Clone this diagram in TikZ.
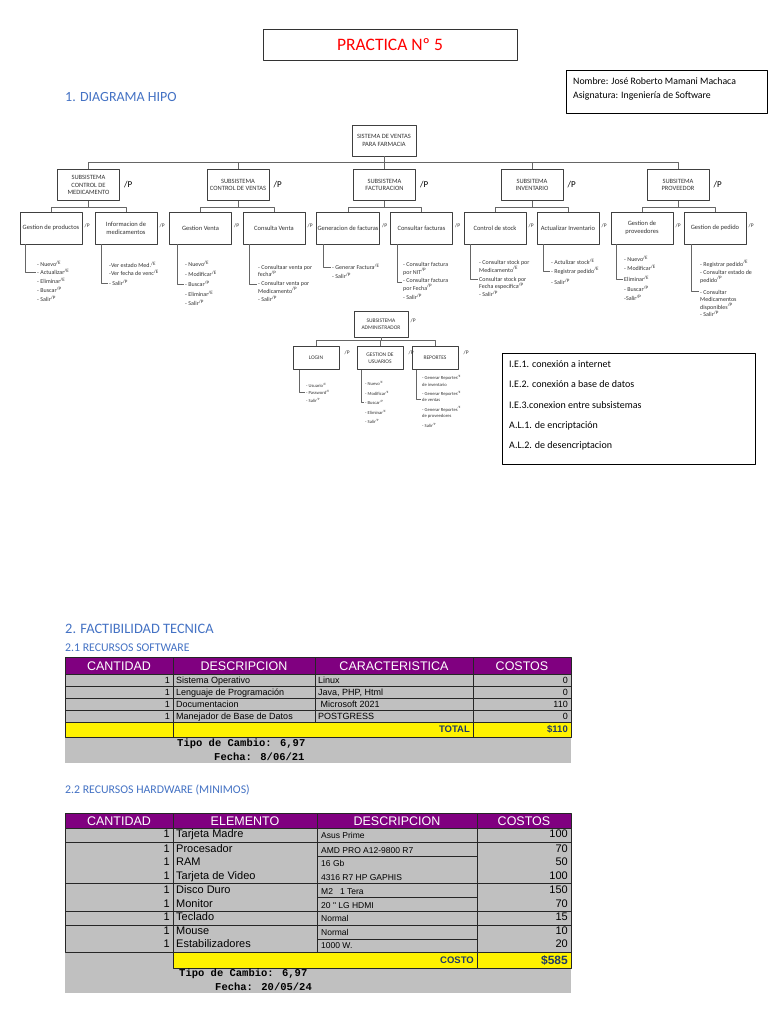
\documentclass[tikz,border=0pt]{standalone}
\usepackage{fontspec}
\setmainfont{Carlito}
\newfontfamily\arialf{Liberation Sans}
\newfontfamily\courf{Liberation Mono}
\usetikzlibrary{positioning}
\definecolor{hblue}{HTML}{4472C4}
\definecolor{tpurple}{HTML}{800080}
\definecolor{tgray}{HTML}{C0C0C0}
\definecolor{tnavy}{HTML}{1F3A68}
\newcommand\sE{\textsuperscript{/E}}
\newcommand\sP{\textsuperscript{/P}}
\tikzset{
  hbox/.style={draw=black!75, line width=.9pt, align=center, inner sep=1pt, text=black!80, font=\fontsize{6.5}{7.8}\selectfont},
  hroot/.style={hbox, minimum width=64, minimum height=31},
  hsub/.style={hbox, minimum width=62, minimum height=31},
  hfun/.style={hbox, minimum width=62, minimum height=32},
  hadm/.style={hbox, minimum width=46, minimum height=23, font=\fontsize{5.5}{7}\selectfont},
  link/.style={draw=black!60, line width=.7pt},
  item/.style={anchor=west, align=left, inner sep=1pt, text=black!80, font=\fontsize{6}{7.5}\selectfont},
  itsm/.style={item, font=\fontsize{4.6}{6.5}\selectfont},
  plab/.style={inner sep=0pt, font=\fontsize{9}{9}\selectfont},
  psm/.style={inner sep=0pt, text=black!80, font=\fontsize{5.5}{5.5}\selectfont},
  cell/.style={draw=black!85, line width=.7pt},
  thead/.style={text=white, inner sep=0pt, text height=9pt, text depth=0pt, font=\arialf\fontsize{12.5}{12.5}\selectfont},
  tdat/.style={inner sep=0pt, text height=6.5pt, text depth=0pt, font=\arialf\fontsize{9}{9}\selectfont},
  tdsm/.style={inner sep=0pt, text height=6.1pt, text depth=0pt, font=\arialf\fontsize{8.5}{8.5}\selectfont},
  tbig/.style={inner sep=0pt, text height=7.9pt, text depth=0pt, font=\arialf\fontsize{11}{11}\selectfont},
  ttot/.style={anchor=east, inner sep=0pt, text height=6.8pt, text depth=0pt, text=tnavy, font=\arialf\bfseries\fontsize{9.5}{9.5}\selectfont},
  tcam/.style={anchor=west, inner sep=0pt, text height=6.5pt, text depth=0pt, font=\courf\bfseries\fontsize{10.5}{10.5}\selectfont},
  htit/.style={anchor=west, inner sep=0pt, text=hblue},
}
\begin{document}
\begin{tikzpicture}[x=1pt,y=-1pt,line join=round]
  \useasboundingbox (0,0) rectangle (768,1024);
  \fill[white] (0,0) rectangle (768,1024);

  % encabezado
  \node[draw=black!80, line width=.8pt, minimum width=254, minimum height=31, text=red, font=\fontsize{17.5}{17.5}\selectfont] (titulo) at (390,44.5) {PRACTICA Nº 5};
  \node[htit, font=\fontsize{14}{14}\selectfont] (hipo) at (65,97) {1. DIAGRAMA HIPO};
  \draw[line width=.8pt] (566,70) rectangle (767,113);
  \node[anchor=west, inner sep=0pt, font=\fontsize{9.8}{9.8}\selectfont] (nombre) at (573,81) {Nombre: José Roberto Mamani Machaca};
  \node[anchor=west, inner sep=0pt, font=\fontsize{9.8}{9.8}\selectfont] (asig) at (573,96) {Asignatura: Ingeniería de Software};

  % diagrama hipo
  \node[hroot] (raiz) at (384,140.5) {SISTEMA DE VENTAS\\PARA FARMACIA};
  \node[hsub] (sMed) at (88.5,185) {SUBSISTEMA\\CONTROL DE\\MEDICAMENTO};
  \node[hsub] (sVen) at (238,185) {SUBSISTEMA\\CONTROL DE VENTAS};
  \node[hsub] (sFac) at (384.5,185) {SUBSISTEMA\\FACTURACION};
  \node[hsub] (sInv) at (532,185) {SUBSITEMA\\INVENTARIO};
  \node[hsub] (sPro) at (678,185) {SUBSITEMA\\PROVEEDOR};
  \foreach \s in {sMed,sVen,sFac,sInv,sPro} {
    \draw[link] (raiz.south) -- ++(0,6) -| (\s.north);
    \node[plab, right=4pt of \s] (\s-p) {/P};
  }

  \node[hfun] (gProd) at (51,228) {Gestion de productos};
  \node[hfun] (gInfo) at (126,228) {Informacion de\\medicamentos};
  \node[hfun] (gVen) at (200.5,228) {Gestion Venta};
  \node[hfun] (gCon) at (274,228) {Consulta Venta};
  \node[hfun] (gGen) at (348,228) {Generacion de facturas};
  \node[hfun] (gFac) at (421.5,228) {Consultar facturas};
  \node[hfun] (gSto) at (495,228) {Control de stock};
  \node[hfun] (gAct) at (568,228) {Actualizar Inventario};
  \node[hfun] (gPrv) at (642,228) {Gestion de\\proveedores};
  \node[hfun] (gPed) at (715,228) {Gestion de pedido};
  \foreach \s/\g in {sMed/gProd,sMed/gInfo,sVen/gVen,sVen/gCon,sFac/gGen,sFac/gFac,sInv/gSto,sInv/gAct,sPro/gPrv,sPro/gPed} {
    \draw[link] (\s.south) -- ++(0,6) -| (\g.north);
    \node[psm, right=2pt of \g, yshift=2pt] (\g-p) {/P};
  }

  % salidas
  \foreach \t/\y [count=\i] in {{- Nuevo\sE}/264, {- Actualizar\sE}/272, {- Eliminar\sE}/281, {- Buscar\sP}/290, {- Salir\sP}/299}
    \node[item] (gProd-\i) at (36,\y) {\t};
  \draw[link] ([xshift=6]gProd.south west) |- (gProd-2.west);
  \foreach \t/\y [count=\i] in {{-Ver estado Med.\sE}/265, {-Ver fecha de venc\sE}/273, {- Salir\sP}/283}
    \node[item] (gInfo-\i) at (108,\y) {\t};
  \draw[link] ([xshift=7]gInfo.south west) |- (gInfo-3.west);
  \foreach \t/\y [count=\i] in {{- Nuevo\sE}/264, {- Modificar\sE}/274, {- Buscar\sP}/284, {- Eliminar\sE}/294, {- Salir\sP}/303}
    \node[item] (gVen-\i) at (184,\y) {\t};
  \draw[link] ([xshift=8]gVen.south west) |- (gVen-3.west);
  \foreach \t/\y [count=\i] in {{- Consultaar venta por\\fecha\sP}/271, {- Consultar venta por\\Medicamento\sP}/287.5, {- Salir\sP}/299}
    \node[item] (gCon-\i) at (257,\y) {\t};
  \draw[link] ([xshift=7]gCon.south west) |- ([yshift=3.5pt]gCon-2.west);
  \foreach \t/\y [count=\i] in {{- Generar Factura\sE}/267, {- Salir\sP}/276}
    \node[item] (gGen-\i) at (331,\y) {\t};
  \draw[link] ([xshift=7]gGen.south west) |- (gGen-1.west);
  \foreach \t/\y [count=\i] in {{- Consultar factura\\por NIT\sP}/269, {- Consultar factura\\por Fecha\sP}/285, {- Salir\sP}/297}
    \node[item] (gFac-\i) at (402,\y) {\t};
  \draw[link] ([xshift=7]gFac.south west) |- ([yshift=3pt]gFac-2.west);
  \foreach \t/\y [count=\i] in {{- Consultar stock por\\Medicamento\sE}/266.5, {Consultar stock por\\Fecha específica\sP}/283.5, {- Salir\sP}/294}
    \node[item] (gSto-\i) at (478,\y) {\t};
  \draw[link] ([xshift=7]gSto.south west) |- ([yshift=4pt]gSto-2.west);
  \foreach \t/\y [count=\i] in {{- Actulizar stock\sE}/262, {- Registrar pedido\sE}/271, {- Salir\sP}/282}
    \node[item] (gAct-\i) at (550,\y) {\t};
  \draw[link] ([xshift=7]gAct.south west) |- (gAct-2.west);
  \foreach \t/\y [count=\i] in {{- Nuevo\sE}/259, {- Modificar\sE}/268, {Eliminar\sE}/279, {- Buscar\sP}/289, {-Salir\sP}/298}
    \node[item] (gPrv-\i) at (623,\y) {\t};
  \draw[link] ([xshift=6]gPrv.south west) |- (gPrv-3.west);
  \foreach \t/\y [count=\i] in {{- Registrar pedido\sE}/264, {- Consultar estado de\\pedido\sP}/277, {- Consultar\\Medicamentos\\disponibles\sP}/300, {- Salir\sP}/314}
    \node[item] (gPed-\i) at (699,\y) {\t};
  \draw[link] ([xshift=8]gPed.south west) |- ([yshift=9pt]gPed-3.west);

  % subsistema administrador
  \node[hroot, minimum width=54, minimum height=26, font=\fontsize{5.5}{7}\selectfont] (sAdm) at (381,324) {SUBSISTEMA\\ADMINISTRADOR};
  \node[psm, right=2pt of sAdm, yshift=3pt] (sAdm-p) {/P};
  \node[hadm] (gLog) at (316,358) {LOGIN};
  \node[hadm] (gUsu) at (380,358) {GESTION DE\\USUARIOS};
  \node[hadm] (gRep) at (435,358) {REPORTES};
  \foreach \g in {gLog,gUsu,gRep} {
    \draw[link] (sAdm.south) -- ++(0,3) -| (\g.north);
    \node[psm, right=5pt of \g, yshift=5pt] (\g-p) {/P};
  }
  \foreach \t/\y [count=\i] in {{- Usuario\sE}/385, {- Password\sE}/392.5, {- Salir\sP}/400}
    \node[itsm] (gLog-\i) at (305,\y) {\t};
  \draw[link] ([xshift=7]gLog.south west) |- (gLog-2.west);
  \foreach \t/\y [count=\i] in {{- Nuevo\sE}/383, {- Modificar\sE}/393, {- Buscar\sP}/402, {- Eliminar\sE}/412, {- Salir\sP}/421}
    \node[itsm] (gUsu-\i) at (364,\y) {\t};
  \draw[link] ([xshift=5]gUsu.south west) |- (gUsu-3.west);
  \foreach \t/\y [count=\i] in {{- Generar Reportes\sE\\de inventario}/381, {- Generar Reportes\sE\\de ventas}/396.5, {- Generar Reportes\sE\\de proveedores}/412.5, {- Salir\sP}/425}
    \node[itsm] (gRep-\i) at (421,\y) {\t};
  \draw[link] ([xshift=5]gRep.south west) |- ([yshift=-3pt]gRep-2.west);

  % interfaces
  \draw[line width=.8pt] (502,353) rectangle (755,464);
  \foreach \t [count=\i] in {I.E.1. conexión a internet, I.E.2. conexión a base de datos, I.E.3.conexion entre subsistemas, A.L.1. de encriptación, A.L.2. de desencriptacion}
    \node[anchor=west, inner sep=0pt, font=\fontsize{10}{10}\selectfont] (ie-\i) at (509,343.5+20.5*\i) {\t};

  % factibilidad
  \node[htit, font=\fontsize{14.4}{14.4}\selectfont] (fact) at (65,629) {2. FACTIBILIDAD TECNICA};
  \node[htit, font=\fontsize{11.8}{11.8}\selectfont] (soft) at (65,648) {2.1 RECURSOS SOFTWARE};
  \node[htit, font=\fontsize{11.8}{11.8}\selectfont] (hard) at (65,790) {2.2 RECURSOS HARDWARE (MINIMOS)};

  \begin{scope}[shift={(65,657)}]
    \fill[tgray] (0,17) rectangle (506,106);
    \fill[tpurple] (0,0) rectangle (506,17);
    \fill[yellow] (0,65) rectangle (506,80);
    \draw[cell] (0,0) rectangle (506,80);
    \foreach \y in {17,29,41,53,65} \draw[cell] (0,\y) -- (506,\y);
    \foreach \x in {108,408} \draw[cell] (\x,0) -- (\x,80);
    \draw[cell] (250,0) -- (250,65);
    \foreach \t/\x [count=\i] in {CANTIDAD/54, DESCRIPCION/179, CARACTERISTICA/329, COSTOS/457}
      \node[thead] (sw-h\i) at (\x,8.5) {\t};
    \foreach \d/\c/\v [count=\i] in {{Sistema Operativo}/Linux/0, {Lenguaje de Programación}/{Java, PHP, Html}/0, Documentacion/{\ Microsoft 2021}/110, {Manejador de Base de Datos}/POSTGRESS/0} {
      \node[tdat, anchor=east] (sw-q\i) at (105,11+12*\i) {1};
      \node[tdat, anchor=west] (sw-d\i) at (111,11+12*\i) {\d};
      \node[tdat, anchor=west] (sw-c\i) at (253,11+12*\i) {\c};
      \node[tdat, anchor=east] (sw-v\i) at (503,11+12*\i) {\v};
    }
    \node[ttot] (sw-tot) at (405,72.5) {TOTAL};
    \node[ttot] (sw-sum) at (503,72.5) {\$110};
    \node[tcam] (sw-tc) at (112,86) {Tipo de Cambio: 6,97};
    \node[tcam] (sw-fe) at (149,100) {Fecha: 8/06/21};
  \end{scope}

  \begin{scope}[shift={(65,813)}]
    \fill[tgray] (0,15) rectangle (506,180);
    \fill[tpurple] (0,0) rectangle (506,15);
    \fill[yellow] (108,139) rectangle (506,155);
    \draw[cell] (0,0) rectangle (506,139);
    \draw[cell] (108,139) rectangle (506,155);
    \foreach \y in {15,29,70,98,112} {
      \draw[cell] (0,\y) -- (252,\y);
      \draw[cell] (412,\y) -- (506,\y);
    }
    \foreach \y in {15,29,43,70,84,98,112,126} \draw[cell] (252,\y) -- (412,\y);
    \foreach \x in {108,252,412} \draw[cell] (\x,0) -- (\x,139);
    \draw[cell] (412,139) -- (412,155);
    \foreach \t/\x [count=\i] in {CANTIDAD/54, ELEMENTO/180, DESCRIPCION/332, COSTOS/459}
      \node[thead] (hw-h\i) at (\x,7.5) {\t};
    \foreach \e/\d/\v/\y [count=\i] in {{Tarjeta Madre}/{Asus Prime}/100/21, Procesador/{AMD PRO A12-9800 R7}/70/36, RAM/{16 Gb}/50/49, {Tarjeta de Video}/{4316 R7 HP GAPHIS}/100/63, {Disco Duro}/{M2\ \ \ 1 Tera}/150/77, Monitor/{20 " LG HDMI}/70/91, Teclado/Normal/15/104, Mouse/Normal/10/118, Estabilizadores/{1000 W.}/20/131} {
      \node[tbig, anchor=east] (hw-q\i) at (105,\y) {1};
      \node[tbig, anchor=west] (hw-e\i) at (111,\y) {\e};
      \node[tdsm, anchor=west] (hw-d\i) at (256,\y+1) {\d};
      \node[tbig, anchor=east] (hw-v\i) at (503,\y) {\v};
    }
    \node[ttot] (hw-tot) at (409,147) {COSTO};
    \node[ttot, text height=8.6pt, font=\arialf\bfseries\fontsize{12}{12}\selectfont] (hw-sum) at (503,147) {\$585};
    \node[tcam] (hw-tc) at (114,160) {Tipo de Cambio: 6,97};
    \node[tcam] (hw-fe) at (150,174) {Fecha: 20/05/24};
  \end{scope}
\end{tikzpicture}
\end{document}
